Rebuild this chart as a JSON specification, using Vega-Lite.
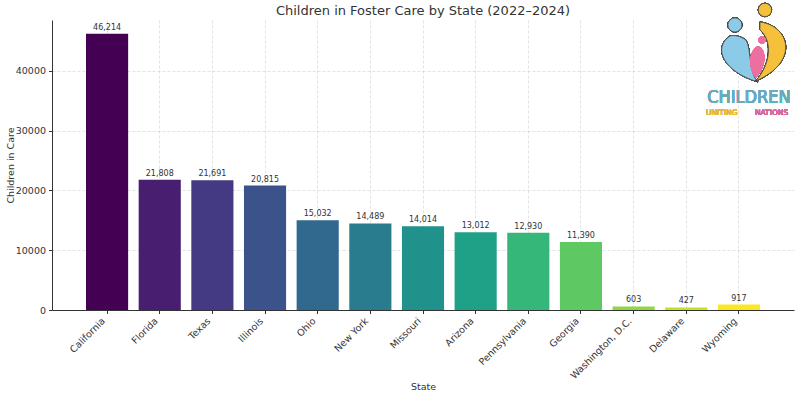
{
  "$schema": "https://vega.github.io/schema/vega-lite/v6.json",
  "autosize": {"type": "none"},
  "padding": {"left": 52, "top": 20, "right": 6, "bottom": 87},
  "width": 742,
  "height": 290,
  "background": "white",
  "title": {
    "text": "Children in Foster Care by State (2022–2024)",
    "fontSize": 13,
    "fontWeight": "normal",
    "font": "DejaVu Sans",
    "color": "#333",
    "anchor": "middle",
    "frame": "group",
    "offset": 4,
    "dy": 20
  },
  "config": {
    "view": {"stroke": null},
    "font": "DejaVu Sans",
    "axis": {
      "labelFont": "DejaVu Sans",
      "titleFont": "DejaVu Sans",
      "labelFontSize": 9.5,
      "titleFontSize": 9.5,
      "titleFontWeight": "normal",
      "labelColor": "#333",
      "titleColor": "#333",
      "domainColor": "#333",
      "tickColor": "#333",
      "tickSize": 3.5,
      "gridColor": "#b0b0b0",
      "gridOpacity": 0.45,
      "gridDash": [3, 2],
      "gridWidth": 0.8,
      "zindex": 1
    }
  },
  "data": {
    "values": [
      {"State": "California", "Children": 46214},
      {"State": "Florida", "Children": 21808},
      {"State": "Texas", "Children": 21691},
      {"State": "Illinois", "Children": 20815},
      {"State": "Ohio", "Children": 15032},
      {"State": "New York", "Children": 14489},
      {"State": "Missouri", "Children": 14014},
      {"State": "Arizona", "Children": 13012},
      {"State": "Pennsylvania", "Children": 12930},
      {"State": "Georgia", "Children": 11390},
      {"State": "Washington, D.C.", "Children": 603},
      {"State": "Delaware", "Children": 427},
      {"State": "Wyoming", "Children": 917}
    ]
  },
  "encoding": {
    "x": {
      "field": "State",
      "type": "nominal",
      "sort": null,
      "scale": {"paddingInner": 0.2, "paddingOuter": 0.646},
      "axis": {
        "title": "State",
        "labelAngle": -45,
        "labelAlign": "right",
        "labelBaseline": "top",
        "labelFontSize": 9.5,
        "labelPadding": 2,
        "labelOffset": -7,
        "bandPosition": 0.5,
        "grid": true,
        "titleY": 71
      }
    },
    "y": {
      "field": "Children",
      "type": "quantitative",
      "scale": {"domain": [0, 48525], "nice": false, "zero": true},
      "axis": {
        "title": "Children in Care",
        "values": [0, 10000, 20000, 30000, 40000],
        "format": "d",
        "labelPadding": 3,
        "titleX": -37,
        "titleY": 145,
        "grid": true
      }
    }
  },
  "layer": [
    {
      "mark": {"type": "bar"},
      "encoding": {
        "color": {
          "field": "State",
          "type": "nominal",
          "sort": null,
          "legend": null,
          "scale": {
            "domain": ["California", "Florida", "Texas", "Illinois", "Ohio", "New York", "Missouri", "Arizona", "Pennsylvania", "Georgia", "Washington, D.C.", "Delaware", "Wyoming"],
            "range": ["#440154", "#481f70", "#443983", "#3b528b", "#31688e", "#297b8e", "#21918c", "#1fa187", "#35b779", "#5ec962", "#90d743", "#c8e020", "#fde725"]
          }
        }
      }
    },
    {
      "mark": {"type": "text", "baseline": "bottom", "dy": -2, "fontSize": 8, "color": "#333"},
      "encoding": {"text": {"field": "Children", "type": "quantitative", "format": ","}}
    },
    {
      "mark": {"type": "point", "filled": true, "shape": "M -0.625 -0.15 C -1.075 0.15 -0.775 0.75 0.075 1.0 C -0.175 0.75 -0.075 0.2 -0.225 -0.05 C -0.375 -0.15 -0.5 -0.175 -0.625 -0.15 Z", "size": 6400, "stroke": "#444", "strokeWidth": 0.8, "opacity": 1, "xOffset": 16},
      "encoding": {"x": {"datum": "Wyoming"}, "y": {"datum": 44854}, "color": {"value": "#8ccbe8"}}
    },
    {
      "mark": {"type": "point", "filled": true, "shape": "M 0.125 -0.5 C 0.875 -0.4 1.125 0.5 0.025 0.975 C 0.425 0.5 0.425 -0.05 0.125 -0.3 Z", "size": 6400, "stroke": "#444", "strokeWidth": 0.8, "opacity": 1, "xOffset": 16},
      "encoding": {"x": {"datum": "Wyoming"}, "y": {"datum": 44854}, "color": {"value": "#f5c13a"}}
    },
    {
      "mark": {"type": "point", "filled": true, "shape": "M 0.075 0.1 C 0.325 0.2 0.275 0.65 0.025 0.9 C -0.175 0.65 -0.175 0.25 0.075 0.1 Z", "size": 6400, "opacity": 1, "xOffset": 16},
      "encoding": {"x": {"datum": "Wyoming"}, "y": {"datum": 44854}, "color": {"value": "#ec6fa0"}}
    },
    {
      "mark": {"type": "point", "filled": true, "shape": "circle", "size": 200, "stroke": "#444", "strokeWidth": 0.8, "opacity": 1, "xOffset": -4},
      "encoding": {"x": {"datum": "Wyoming"}, "y": {"datum": 47699}, "color": {"value": "#8ccbe8"}}
    },
    {
      "mark": {"type": "point", "filled": true, "shape": "circle", "size": 180, "stroke": "#444", "strokeWidth": 0.8, "opacity": 1, "xOffset": 26},
      "encoding": {"x": {"datum": "Wyoming"}, "y": {"datum": 50209}, "color": {"value": "#f5c13a"}}
    },
    {
      "mark": {"type": "point", "filled": true, "shape": "circle", "size": 50, "opacity": 1, "xOffset": 23},
      "encoding": {"x": {"datum": "Wyoming"}, "y": {"datum": 45188}, "color": {"value": "#ec6fa0"}}
    },
    {
      "mark": {"type": "text", "text": "CHILDREN", "align": "center", "baseline": "alphabetic", "dx": 10, "fontSize": 18, "font": "DejaVu Sans Condensed", "fontWeight": 200, "color": "#6aaabd"},
      "encoding": {"x": {"datum": "Wyoming"}, "y": {"datum": 34600}}
    },
    {
      "mark": {"type": "text", "text": "UNITING", "align": "left", "baseline": "alphabetic", "dx": -33, "fontSize": 7.5, "font": "DejaVu Sans", "color": "#e3b93f"},
      "encoding": {"x": {"datum": "Wyoming"}, "y": {"datum": 32636}}
    },
    {
      "mark": {"type": "text", "text": "NATIONS", "align": "left", "baseline": "alphabetic", "dx": 16, "fontSize": 7.5, "font": "DejaVu Sans", "color": "#d8679f"},
      "encoding": {"x": {"datum": "Wyoming"}, "y": {"datum": 32636}}
    }
  ]
}
